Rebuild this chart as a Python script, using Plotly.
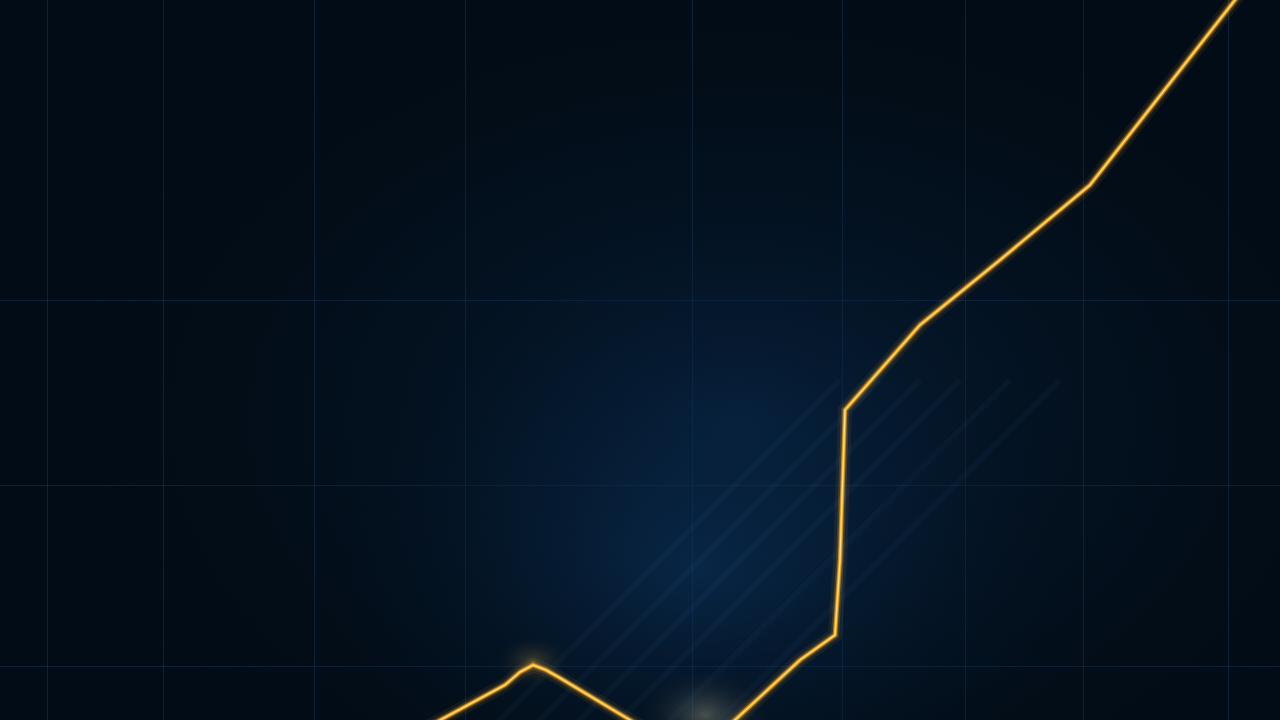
import numpy as np
import plotly.graph_objects as go

# ---- data (series values) ----
x_vals = [420, 505, 520, 533, 546, 560, 630, 694, 735, 800, 835, 840, 845, 852, 920, 1000, 1090, 1235, 1250]
y_vals = [-11, 35, 48, 55, 50, 42, 0, -38, 0, 60, 85, 160, 310, 318, 395, 460, 535, 720, 740]

# grid positions
x_grid = [47, 163, 314, 465, 692, 842, 965, 1083, 1228]
y_grid = [54, 235, 420]

BG = "#020c16"
fig = go.Figure()


def ellipse(cx, cy, rx, ry, n=80):
    t = np.linspace(0, 2 * np.pi, n)
    return cx + rx * np.cos(t), cy + ry * np.sin(t)


# soft blue glow in the background
for (cx, cy, rx, ry, col) in [
    (740, 300, 680, 460, "rgba(10,48,90,0.55)"),
    (700, 150, 420, 300, "rgba(14,60,110,0.45)"),
]:
    ex, ey = ellipse(cx, cy, rx, ry)
    fig.add_trace(go.Scatter(
        x=ex, y=ey, mode="lines", fill="toself", line=dict(width=0),
        fillgradient=dict(type="radial", colorscale=[[0, col], [1, "rgba(2,12,22,0)"]]),
        hoverinfo="skip", showlegend=False))

# faint diffuse diagonal light streaks
for off in [-60, -20, 20, 60, 110, 160]:
    fig.add_trace(go.Scatter(
        x=[540 + off, 900 + off], y=[-20, 340], mode="lines",
        line=dict(color="rgba(70,130,190,0.05)", width=6),
        hoverinfo="skip", showlegend=False))

# bright glow near the valley and peak
for (cx, cy, r, col) in [(705, 5, 70, "rgba(200,190,160,0.35)"), (533, 58, 40, "rgba(255,190,80,0.25)")]:
    ex, ey = ellipse(cx, cy, r, r * 0.7)
    fig.add_trace(go.Scatter(
        x=ex, y=ey, mode="lines", fill="toself", line=dict(width=0),
        fillgradient=dict(type="radial", colorscale=[[0, col], [1, "rgba(2,12,22,0)"]]),
        hoverinfo="skip", showlegend=False))

# glowing golden line (layered)
for w, c in [(14, "rgba(255,160,30,0.08)"), (8, "rgba(255,170,40,0.18)"),
             (4.5, "rgba(250,180,50,0.55)"), (2.6, "#f5b42e"), (1, "#ffe08a")]:
    fig.add_trace(go.Scatter(
        x=x_vals, y=y_vals, mode="lines",
        line=dict(color=c, width=w, shape="linear"),
        hoverinfo="skip", showlegend=False))

fig.update_layout(
    width=1280, height=720,
    margin=dict(l=0, r=0, t=0, b=0),
    paper_bgcolor=BG, plot_bgcolor=BG,
    showlegend=False,
    xaxis=dict(range=[0, 1280], tickvals=x_grid, showticklabels=False,
               showgrid=True, gridcolor="rgba(35,85,140,0.30)", gridwidth=1,
               zeroline=False, showline=False, fixedrange=True),
    yaxis=dict(range=[0, 720], tickvals=y_grid, showticklabels=False,
               showgrid=True, gridcolor="rgba(35,85,140,0.30)", gridwidth=1,
               zeroline=False, showline=False, fixedrange=True),
)

fig.write_html(
    "out.html",
    config={"displayModeBar": False},
    post_script="document.body.style.margin='0';document.body.style.overflow='hidden';"
                "document.body.style.background='" + BG + "';",
)
